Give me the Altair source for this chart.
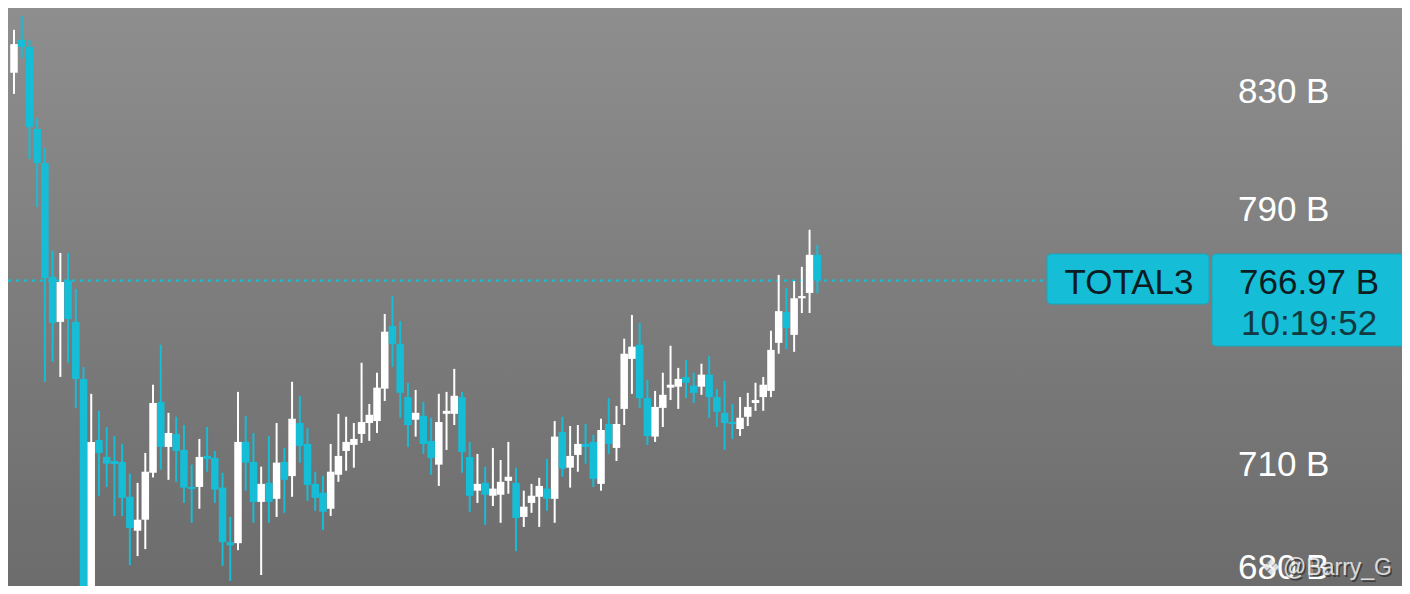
import altair as alt
import pandas as pd

# ---- data (TOTAL3, values in B) ----
opens = [836.8, 848.4, 845.9, 817.3, 805.7, 768.2, 753.8, 767.0, 753.8, 736.0,
         669.5, 717.4, 712.3, 711.1, 710.8, 700.5, 690.6, 693.8, 707.6, 728.9,
         715.3, 719.2, 714.4, 703.4, 703.4, 712.6, 712.0, 703.2, 687.3, 687.0,
         716.8, 710.8, 699.0, 704.6, 699.9, 710.8, 706.6, 722.5, 716.2, 704.3,
         701.7, 697.0, 707.0, 714.1, 715.9, 719.2, 722.5, 723.1, 733.0, 752.5,
         746.9, 730.4, 723.5, 724.7, 717.1, 710.0, 725.3, 725.3, 730.4, 712.3,
         702.3, 704.6, 700.8, 701.1, 705.2, 704.6, 694.6, 698.7, 700.5, 702.9,
         699.9, 719.8, 709.1, 712.9, 716.2, 716.8, 704.3, 722.2, 715.0, 726.8,
         742.2, 746.6, 730.1, 718.4, 727.1, 733.3, 733.6, 736.6, 733.9, 733.6,
         737.3, 730.4, 725.6, 722.8, 720.7, 724.4, 728.6, 730.4, 732.3, 747.2,
         756.9, 749.7, 761.3, 763.0, 775.3]
highs = [852.0, 857.0, 848.4, 821.1, 810.8, 776.6, 775.9, 775.9, 764.3, 739.7,
         731.4, 726.2, 721.3, 718.6, 716.2, 707.3, 704.6, 713.5, 734.2, 746.6,
         725.6, 724.4, 721.9, 710.0, 717.7, 721.3, 714.1, 707.6, 694.6, 732.0,
         724.7, 719.5, 709.4, 718.6, 722.5, 715.0, 735.1, 730.8, 721.0, 707.9,
         706.7, 716.2, 725.3, 724.4, 722.5, 741.0, 728.3, 737.9, 756.3, 762.0,
         754.1, 734.8, 732.6, 728.9, 724.1, 731.4, 732.0, 739.1, 732.0, 716.8,
         713.2, 709.4, 715.0, 711.4, 716.8, 709.1, 702.3, 704.3, 706.1, 711.7,
         723.1, 724.4, 721.6, 721.9, 722.2, 718.9, 723.8, 730.1, 727.7, 748.5,
         756.0, 753.5, 735.7, 732.3, 737.9, 746.3, 739.4, 741.9, 737.9, 740.7,
         743.1, 732.9, 735.4, 728.3, 730.4, 731.7, 734.8, 736.6, 751.0, 768.8,
         764.6, 766.8, 771.4, 783.5, 778.5]
lows = [829.4, 842.0, 807.1, 791.0, 735.1, 741.3, 736.6, 741.0, 727.1, 665.0,
        665.0, 700.8, 703.4, 694.9, 694.9, 680.7, 683.3, 685.3, 706.2, 708.5,
        705.5, 704.9, 698.7, 692.9, 697.0, 707.9, 698.7, 680.5, 676.2, 685.0,
        702.3, 692.9, 677.9, 692.9, 694.6, 695.8, 700.5, 710.6, 699.3, 696.4,
        690.8, 694.9, 704.9, 708.2, 709.1, 716.5, 717.1, 719.5, 729.2, 739.7,
        724.1, 715.3, 718.4, 713.2, 707.0, 703.7, 714.4, 721.9, 707.6, 696.1,
        698.7, 692.3, 697.8, 692.9, 701.4, 684.7, 691.7, 695.8, 691.7, 696.4,
        692.9, 706.4, 703.2, 707.9, 710.3, 703.4, 702.3, 713.2, 711.1, 721.9,
        731.4, 727.1, 715.9, 716.8, 721.3, 729.5, 726.8, 730.1, 728.6, 731.1,
        724.1, 721.3, 714.4, 717.7, 718.6, 721.6, 726.2, 726.2, 730.4, 743.8,
        745.3, 744.4, 756.6, 756.6, 763.0]
closes = [846.9, 845.9, 818.0, 805.7, 767.8, 753.5, 766.5, 754.7, 736.0, 669.0,
          716.8, 713.5, 710.3, 710.2, 700.2, 691.4, 693.8, 707.9, 728.6, 715.3,
          719.5, 714.1, 703.2, 702.8, 712.3, 711.7, 702.6, 687.3, 686.4, 716.8,
          710.6, 699.0, 704.3, 699.0, 710.6, 705.5, 723.8, 715.6, 704.0, 700.2,
          696.1, 707.9, 712.6, 716.8, 717.7, 722.8, 725.0, 733.3, 750.7, 746.9,
          731.7, 721.9, 725.6, 716.2, 712.0, 722.8, 726.2, 730.8, 713.8, 700.8,
          704.3, 701.1, 702.9, 704.9, 706.4, 694.3, 697.6, 700.8, 703.7, 699.9,
          718.4, 708.8, 712.6, 716.2, 715.3, 705.8, 720.4, 716.2, 722.2, 743.8,
          746.0, 730.1, 718.6, 727.4, 731.1, 734.2, 736.0, 734.8, 731.7, 737.3,
          730.4, 725.9, 722.5, 722.2, 724.1, 727.4, 729.5, 734.2, 745.0, 757.2,
          751.9, 761.3, 762.0, 775.3, 766.97]

tick_values = [830, 790, 710, 680]
tick_labels = ["830 B", "790 B", "710 B", "680 B"]
last_price = 766.97
symbol = "TOTAL3"
price_label = "766.97 B"
time_label = "10:19:52"
watermark = "@Barry_G"

CYAN = "#16bdd6"
W, H = 1394, 578

df = pd.DataFrame({"idx": list(range(len(opens))), "open": opens, "high": highs,
                   "low": lows, "close": closes})

xscale = alt.Scale(domain=[-0.1285, 179.05], nice=False, zero=False)
yscale = alt.Scale(type="log", domain=[674.78, 859.83], nice=False, zero=False)

one = pd.DataFrame({"price": [last_price]})

bg = alt.Chart(pd.DataFrame({"a": [0]})).mark_rect(
    color=alt.LinearGradient(gradient="linear", x1=0, x2=0, y1=0, y2=1,
                             stops=[alt.GradientStop(color="#8e8e8e", offset=0),
                                    alt.GradientStop(color="#6c6c6c", offset=1)])
).encode(x=alt.value(0), x2=alt.value(W), y=alt.value(0), y2=alt.value(H))

price_line = alt.Chart(one).mark_rule(color=CYAN, strokeWidth=2, strokeDash=[3, 5]).encode(
    y=alt.Y("price:Q", scale=yscale, axis=None), x=alt.value(0), x2=alt.value(1037))

col = alt.when(alt.datum.close >= alt.datum.open).then(alt.value("#ffffff")).otherwise(alt.value(CYAN))

wicks = alt.Chart(df).mark_rule(strokeWidth=2, clip=True).encode(
    x=alt.X("idx:Q", scale=xscale, axis=None),
    y=alt.Y("low:Q", scale=yscale, axis=None), y2="high:Q", color=col)

bodies = alt.Chart(df).mark_bar(size=7.5, clip=True).encode(
    x=alt.X("idx:Q", scale=xscale, axis=None),
    y=alt.Y("open:Q", scale=yscale, axis=None), y2="close:Q", color=col)

ticks = pd.DataFrame({"v": tick_values, "t": tick_labels})
axis_text = alt.Chart(ticks).mark_text(align="left", baseline="middle", fontSize=35,
                                       font="Liberation Sans", color="#ffffff").encode(
    y=alt.Y("v:Q", scale=yscale, axis=None), x=alt.value(1230), text="t:N")

box1 = alt.Chart(one).mark_rect(color=CYAN, cornerRadius=4, stroke="#12a9c0", strokeWidth=1).encode(
    x=alt.value(1039), x2=alt.value(1201), y=alt.value(246), y2=alt.value(296))
box2 = alt.Chart(one).mark_rect(color=CYAN, cornerRadius=4, stroke="#12a9c0", strokeWidth=1).encode(
    x=alt.value(1204), x2=alt.value(1400), y=alt.value(246), y2=alt.value(338))

sym_text = alt.Chart(one).mark_text(align="center", baseline="middle", fontSize=35, dy=2,
                                    font="Liberation Sans", color="#0b1d22").encode(
    y=alt.Y("price:Q", scale=yscale, axis=None), x=alt.value(1121), text=alt.value(symbol))
price_text = alt.Chart(one).mark_text(align="left", baseline="middle", fontSize=35, dy=2,
                                      font="Liberation Sans", color="#0b1d22").encode(
    y=alt.Y("price:Q", scale=yscale, axis=None), x=alt.value(1231), text=alt.value(price_label))
time_text = alt.Chart(one).mark_text(align="left", baseline="middle", fontSize=35, dy=43,
                                     font="Liberation Sans", color="#123840").encode(
    y=alt.Y("price:Q", scale=yscale, axis=None), x=alt.value(1233), text=alt.value(time_label))

wm = pd.DataFrame({"t": [watermark]})
wm_shadow = alt.Chart(wm).mark_text(align="left", baseline="middle", fontSize=23, dx=1.5, dy=1.5,
                                    font="Liberation Sans", color="#222222", opacity=0.6).encode(
    x=alt.value(1275), y=alt.value(560), text="t:N")
wm_text = alt.Chart(wm).mark_text(align="left", baseline="middle", fontSize=23,
                                  font="Liberation Sans", color="#e8e8e8", opacity=0.9).encode(
    x=alt.value(1275), y=alt.value(560), text="t:N")
wm_logo = alt.Chart(wm).mark_text(align="center", baseline="middle", fontSize=22,
                                  font="DejaVu Sans", color="#e8e8e8", opacity=0.9).encode(
    x=alt.value(1263), y=alt.value(560), text=alt.value("\u2756"))

chart = alt.layer(bg, price_line, wicks, bodies, axis_text, box1, box2, sym_text,
                  price_text, time_text, wm_shadow, wm_logo, wm_text).properties(
    width=W, height=H, padding=0, autosize="none", background="#7c7c7c"
).configure_view(stroke=None)

chart.save("out.html", embed_options={"renderer": "svg", "actions": False})
